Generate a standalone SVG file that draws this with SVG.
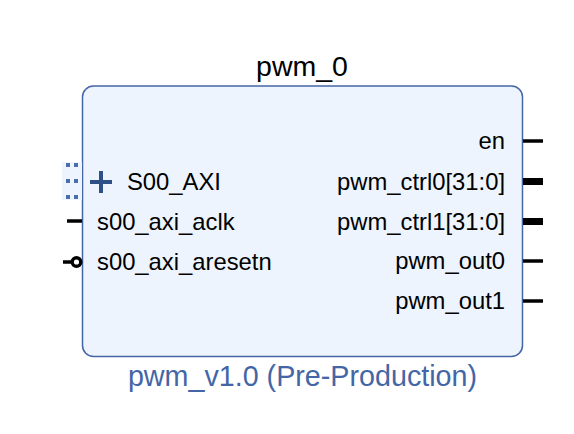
<svg xmlns="http://www.w3.org/2000/svg" width="574" height="434" viewBox="0 0 574 434">
<style>
text{font-family:"Liberation Sans",Arial,sans-serif;fill:#000}
.pin{font-size:23.8px}
.r{text-anchor:end}
.title{font-size:28.5px;text-anchor:middle}
.sub{font-size:28.7px;text-anchor:middle;fill:#4466a6}
.thin{stroke:#000;stroke-width:3.5;fill:none}
.bus{stroke:#000;stroke-width:7;fill:none}
.dot{fill:#4a6fa8}
</style>
<rect width="574" height="434" fill="#fff"/>
<g id="pwm_0">
<text class="title" x="302" y="76">pwm_0</text>
<rect x="82.5" y="86" width="440" height="270.5" rx="11" fill="#edf4fd" stroke="#4466a6" stroke-width="1.5"/>
<text class="sub" x="302.5" y="386">pwm_v1.0 (Pre-Production)</text>
</g>
<g id="connectors">
<g id="S00_AXI">
<rect x="62" y="162" width="20" height="38" fill="#edf4fd"/>
<rect class="dot" x="66" y="163" width="4" height="4"/>
<rect class="dot" x="74" y="163" width="4" height="4"/>
<rect class="dot" x="66" y="179" width="4" height="4"/>
<rect class="dot" x="74" y="179" width="4" height="4"/>
<rect class="dot" x="66" y="195" width="4" height="4"/>
<rect class="dot" x="74" y="195" width="4" height="4"/>
<path d="M90 182H112M101 171V193" stroke="#2f4f88" stroke-width="4" fill="none"/>
<text class="pin" x="127" y="189.5">S00_AXI</text>
</g>
<g id="s00_axi_aclk">
<line class="thin" x1="67" y1="221" x2="82" y2="221"/>
<text class="pin" x="97" y="229.5">s00_axi_aclk</text>
</g>
<g id="s00_axi_aresetn">
<line class="thin" x1="63" y1="262" x2="72" y2="262"/>
<circle cx="76.5" cy="262" r="4.3" fill="#fff" stroke="#000" stroke-width="3.4"/>
<text class="pin" x="97" y="270">s00_axi_aresetn</text>
</g>
<g id="en">
<line class="thin" x1="523" y1="141" x2="543" y2="141"/>
<text class="pin r" x="505" y="149">en</text>
</g>
<g id="pwm_ctrl0">
<line class="bus" x1="523" y1="181.5" x2="543" y2="181.5"/>
<text class="pin r" x="505" y="189.5">pwm_ctrl0[31:0]</text>
</g>
<g id="pwm_ctrl1">
<line class="bus" x1="523" y1="221.5" x2="543" y2="221.5"/>
<text class="pin r" x="505" y="229.5">pwm_ctrl1[31:0]</text>
</g>
<g id="pwm_out0">
<line class="thin" x1="523" y1="261" x2="543" y2="261"/>
<text class="pin r" x="505" y="269">pwm_out0</text>
</g>
<g id="pwm_out1">
<line class="thin" x1="523" y1="301" x2="543" y2="301"/>
<text class="pin r" x="505" y="309">pwm_out1</text>
</g>
</g>
</svg>
